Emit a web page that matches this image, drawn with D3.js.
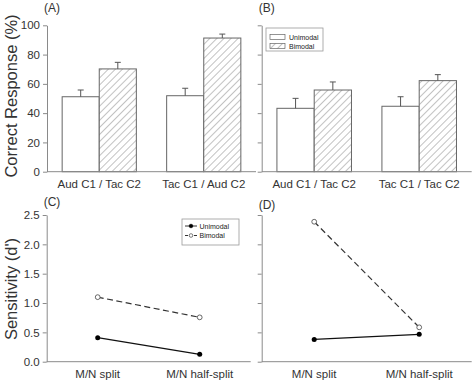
<!DOCTYPE html>
<html><head><meta charset="utf-8">
<script src="https://cdn.jsdelivr.net/npm/d3@7"></script>
<style>body{margin:0;background:#fff}svg{display:block}text{font-family:"Liberation Sans",Arial,sans-serif}</style>
</head><body>
<script>
const barCategories = ["Aud C1 / Tac C2", "Tac C1 / Aud C2"];
const barCategoriesB = ["Aud C1 / Tac C2", "Tac C1 / Tac C2"];
const seriesNames = ["Unimodal", "Bimodal"];
const panelA_mean = [[51.2, 70.2], [51.9, 91.3]];
const panelA_err = [[4.6, 4.5], [5.1, 2.7]];
const panelB_mean = [[43.3, 55.8], [44.7, 62.2]];
const panelB_err = [[6.8, 5.5], [6.5, 4.1]];
const lineCategories = ["M/N split", "M/N half-split"];
const panelC_uni = [0.41, 0.125];
const panelC_bi = [1.10, 0.756];
const panelD_uni = [0.38, 0.467];
const panelD_bi = [2.385, 0.586];
const pctTicks = [0, 20, 40, 60, 80, 100];
const dTicks = [0, 0.5, 1.0, 1.5, 2.0, 2.5];

const W = 474, H = 382;
const svg = d3.select("body").append("svg").attr("width", W).attr("height", H);
const defs = svg.append("defs");
const pat = defs.append("pattern").attr("id","hatch").attr("patternUnits","userSpaceOnUse")
  .attr("width",5).attr("height",5).attr("patternTransform","rotate(45)");
pat.append("rect").attr("width",5).attr("height",5).attr("fill","#fff");
pat.append("line").attr("x1",0).attr("y1",0).attr("x2",0).attr("y2",5).attr("stroke","#777").attr("stroke-width",0.9);

const axisColor = "#8a8a8a";
const textColor = "#333";

function styleAxis(g){
  g.select(".domain").attr("stroke",axisColor);
  g.selectAll(".tick line").attr("stroke",axisColor);
  g.selectAll(".tick text").attr("fill",textColor).attr("font-size","11.5px");
}

function barPanel(x0, x1, yTop, yBot, cats, means, errs, showLabels, label, labelY, legend){
  const y = d3.scaleLinear().domain([0,100]).range([yBot, yTop]);
  const xb = d3.scaleBand().domain(cats).range([x0, x1]).paddingInner(0.29).paddingOuter(0.145);
  const xs = d3.scaleBand().domain(seriesNames).range([0, xb.bandwidth()]);
  const g = svg.append("g");
  cats.forEach((c,i)=>{
    seriesNames.forEach((s,j)=>{
      const bx = xb(c)+xs(s);
      g.append("rect").attr("x",bx).attr("width",xs.bandwidth())
        .attr("y",y(means[i][j])).attr("height",y(0)-y(means[i][j]))
        .attr("fill", j===0 ? "#fff" : "url(#hatch)").attr("stroke","#666").attr("stroke-width",1);
      const cx = bx + xs.bandwidth()/2;
      g.append("line").attr("x1",cx).attr("x2",cx).attr("y1",y(means[i][j])).attr("y2",y(means[i][j]+errs[i][j])).attr("stroke","#555");
      g.append("line").attr("x1",cx-3).attr("x2",cx+3).attr("y1",y(means[i][j]+errs[i][j])).attr("y2",y(means[i][j]+errs[i][j])).attr("stroke","#555");
    });
  });
  const ya = svg.append("g").attr("transform",`translate(${x0},0)`)
    .call(d3.axisLeft(y).tickValues(pctTicks).tickSize(4).tickSizeOuter(0).tickFormat(showLabels? d3.format("d") : ""));
  styleAxis(ya);
  svg.append("line").attr("x1",x0).attr("x2",x1).attr("y1",yBot).attr("y2",yBot).attr("stroke",axisColor);
  cats.forEach(c=>{
    svg.append("text").attr("x",xb(c)+xb.bandwidth()/2).attr("y",yBot+16).attr("text-anchor","middle")
      .attr("font-size","11.5px").attr("fill",textColor).text(c);
  });
  svg.append("text").attr("x",x0-3).attr("y",labelY).attr("font-size","12px").attr("fill",textColor).text(label);
  if(legend){
    const lg = svg.append("g");
    lg.append("rect").attr("x",266).attr("y",28).attr("width",57).attr("height",23).attr("fill","#fff").attr("stroke","#999").attr("stroke-width",0.8);
    seriesNames.forEach((s,j)=>{
      const ry = 37 + j*9;
      lg.append("rect").attr("x",270).attr("y",ry-2.5).attr("width",15).attr("height",5)
        .attr("fill", j===0?"#fff":"url(#hatch)").attr("stroke","#666").attr("stroke-width",0.7);
      lg.append("text").attr("x",289).attr("y",ry+2.5).attr("font-size","7px").attr("fill","#222").text(s);
    });
  }
}

function linePanel(x0, x1, yTop, yBot, uni, bi, showLabels, label, labelY, legend){
  const y = d3.scaleLinear().domain([0,2.5]).range([yBot, yTop]);
  const x = d3.scalePoint().domain(lineCategories).range([x0, x1]).padding(0.5);
  const ya = svg.append("g").attr("transform",`translate(${x0},0)`)
    .call(d3.axisLeft(y).tickValues(dTicks).tickSize(4).tickSizeOuter(0).tickFormat(showLabels? d3.format(".1f") : ""));
  styleAxis(ya);
  svg.append("line").attr("x1",x0).attr("x2",x1).attr("y1",yBot).attr("y2",yBot).attr("stroke",axisColor);
  lineCategories.forEach(c=>{
    svg.append("text").attr("x",x(c)).attr("y",yBot+16).attr("text-anchor","middle")
      .attr("font-size","11.5px").attr("fill",textColor).text(c);
  });
  const line = d3.line().x((d,i)=>x(lineCategories[i])).y(d=>y(d));
  svg.append("path").datum(bi).attr("d",line).attr("fill","none").attr("stroke","#333").attr("stroke-width",1.2).attr("stroke-dasharray","6,3.5");
  svg.append("path").datum(uni).attr("d",line).attr("fill","none").attr("stroke","#111").attr("stroke-width",1.3);
  bi.forEach((v,i)=>svg.append("circle").attr("cx",x(lineCategories[i])).attr("cy",y(v)).attr("r",2.4).attr("fill","#fff").attr("stroke","#444").attr("stroke-width",0.8));
  uni.forEach((v,i)=>svg.append("circle").attr("cx",x(lineCategories[i])).attr("cy",y(v)).attr("r",2.5).attr("fill","#000"));
  svg.append("text").attr("x",x0-3).attr("y",labelY).attr("font-size","12px").attr("fill",textColor).text(label);
  if(legend){
    const lg = svg.append("g");
    lg.append("rect").attr("x",182).attr("y",219).attr("width",57).attr("height",26).attr("fill","#fff").attr("stroke","#999").attr("stroke-width",0.8);
    seriesNames.forEach((s,j)=>{
      const ry = 226 + j*9.5;
      lg.append("line").attr("x1",185).attr("x2",197).attr("y1",ry).attr("y2",ry).attr("stroke","#333").attr("stroke-width",1).attr("stroke-dasharray", j===0?null:"3,1.5");
      lg.append("circle").attr("cx",191).attr("cy",ry).attr("r",1.8).attr("fill",j===0?"#000":"#fff").attr("stroke",j===0?"#000":"#444").attr("stroke-width",0.7);
      lg.append("text").attr("x",199.5).attr("y",ry+2.5).attr("font-size","7px").attr("fill","#222").text(s);
    });
  }
}

barPanel(47, 256, 25.3, 171.7, barCategories, panelA_mean, panelA_err, true, "(A)", 11.5, false);
barPanel(261.7, 471.7, 25.3, 171.7, barCategoriesB, panelB_mean, panelB_err, false, "(B)", 12, true);
linePanel(46.7, 250.7, 215, 361.7, panelC_uni, panelC_bi, true, "(C)", 206, true);
linePanel(261.7, 471.7, 215, 361.7, panelD_uni, panelD_bi, false, "(D)", 208.5, false);

svg.append("text").attr("transform","translate(16.5,96) rotate(-90)").attr("text-anchor","middle")
  .attr("font-size","16.5px").attr("fill",textColor).text("Correct Response (%)");
svg.append("text").attr("transform","translate(16.5,289) rotate(-90)").attr("text-anchor","middle")
  .attr("font-size","16.5px").attr("fill",textColor).text("Sensitivity (d')");
</script>
</body></html>
